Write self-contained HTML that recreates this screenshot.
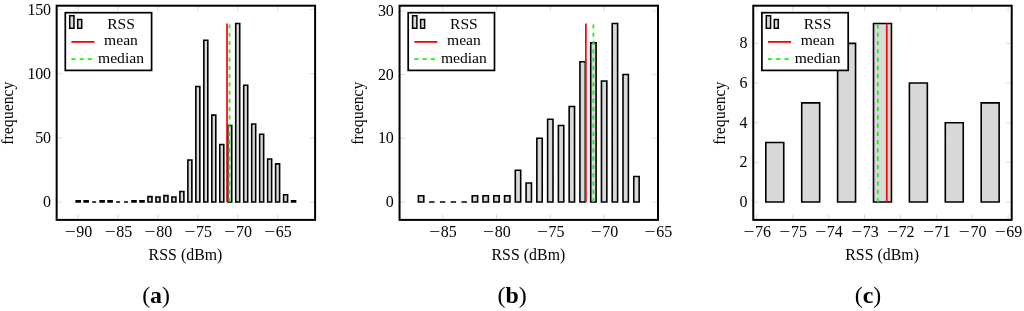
<!DOCTYPE html>
<html><head><meta charset="utf-8"><title>RSS histograms</title>
<style>
html,body{margin:0;padding:0;background:#fff;}
svg{display:block;}
text{font-family:"Liberation Serif", serif;fill:#000;}
</style></head><body>
<svg width="1024" height="311" viewBox="0 0 1024 311">
<rect width="1024" height="311" fill="#fff"/>
<path d="M78.19 219.9v-5.4M78.19 5.7v5.4M118.07 219.9v-5.4M118.07 5.7v5.4M157.96 219.9v-5.4M157.96 5.7v5.4M197.84 219.9v-5.4M197.84 5.7v5.4M237.72 219.9v-5.4M237.72 5.7v5.4M277.61 219.9v-5.4M277.61 5.7v5.4M56.65 202.05h5.4M315.1 202.05h-5.4M56.65 137.84h5.4M315.1 137.84h-5.4M56.65 73.63h5.4M315.1 73.63h-5.4M56.65 9.42h5.4M315.1 9.42h-5.4" stroke="#cccccc" stroke-width="0.7" fill="none"/>
<path d="M76.19 202.05h3.99V200.77h-3.99zM84.17 202.05h3.99V200.77h-3.99zM92.15 202.05h3.99M100.12 202.05h3.99V200.77h-3.99zM108.1 202.05h3.99V200.77h-3.99zM116.08 202.05h3.99M124.05 202.05h3.99M132.03 202.05h3.99V200.77h-3.99zM140.01 202.05h3.99V200.77h-3.99zM147.98 202.05h3.99V196.66h-3.99zM155.96 202.05h3.99V197.04h-3.99zM163.94 202.05h3.99V195.63h-3.99zM171.92 202.05h3.99V197.04h-3.99zM179.89 202.05h3.99V191.52h-3.99zM187.87 202.05h3.99V160.06h-3.99zM195.85 202.05h3.99V86.47h-3.99zM203.82 202.05h3.99V40.24h-3.99zM211.8 202.05h3.99V115.11h-3.99zM219.78 202.05h3.99V144.52h-3.99zM227.75 202.05h3.99V125.51h-3.99zM235.73 202.05h3.99V23.55h-3.99zM243.71 202.05h3.99V85.19h-3.99zM251.68 202.05h3.99V123.97h-3.99zM259.66 202.05h3.99V134.25h-3.99zM267.64 202.05h3.99V159.03h-3.99zM275.61 202.05h3.99V163.91h-3.99zM283.59 202.05h3.99V194.73h-3.99zM291.57 202.05h3.99V200.77h-3.99z" fill="#d9d9d9" stroke="#000" stroke-width="1.6" stroke-linejoin="miter"/>
<path d="M227.04 202.05V23.55" stroke="#f00" stroke-width="1.7" fill="none"/>
<path d="M229.51 202.05V23.55" stroke="#0f0" stroke-width="1.7" stroke-dasharray="4.13 4.13" fill="none"/>
<rect x="56.65" y="5.7" width="258.45" height="214.2" fill="none" stroke="#000" stroke-width="2"/>
<rect x="65.3" y="12.7" width="86.3" height="57.7" fill="#fff" stroke="#000" stroke-width="1.7"/>
<path d="M69.7 28.2h4.3V15.8h-4.3zM77.7 28.2h4V19.4h-4z" fill="#d9d9d9" stroke="#000" stroke-width="1.5"/>
<path d="M71.4 41.9h23.1" stroke="#f00" stroke-width="1.75"/>
<path d="M71.4 59.2h23.1" stroke="#0f0" stroke-width="1.75" stroke-dasharray="4.13 4.13"/>
<text x="121" y="29.0" font-size="15.6" text-anchor="middle">RSS</text>
<text x="121" y="44.5" font-size="15.6" text-anchor="middle">mean</text>
<text x="121" y="63.1" font-size="15.6" text-anchor="middle">median</text>
<text x="42.9" y="207.15" font-size="16">0</text>
<text x="35.15 42.9" y="142.94" font-size="16">50</text>
<text x="27.4 35.15 42.9" y="78.73" font-size="16">100</text>
<text x="27.4 35.15 42.9" y="14.52" font-size="16">150</text>
<text transform="translate(64.81 236.5) scale(1.22 1)" font-size="16">−</text>
<text x="76.37 84.37" y="236.5" font-size="16">90</text>
<text transform="translate(104.69 236.5) scale(1.22 1)" font-size="16">−</text>
<text x="116.25 124.25" y="236.5" font-size="16">85</text>
<text transform="translate(144.58 236.5) scale(1.22 1)" font-size="16">−</text>
<text x="156.14 164.14" y="236.5" font-size="16">80</text>
<text transform="translate(184.46 236.5) scale(1.22 1)" font-size="16">−</text>
<text x="196.02 204.02" y="236.5" font-size="16">75</text>
<text transform="translate(224.34 236.5) scale(1.22 1)" font-size="16">−</text>
<text x="235.9 243.9" y="236.5" font-size="16">70</text>
<text transform="translate(264.23 236.5) scale(1.22 1)" font-size="16">−</text>
<text x="275.79 283.79" y="236.5" font-size="16">65</text>
<text x="185.47" y="259.8" font-size="15.8" text-anchor="middle" textLength="73.7" lengthAdjust="spacing">RSS (dBm)</text>
<text transform="translate(12.6 113.1) rotate(-90)" font-size="15.8" text-anchor="middle">frequency</text>
<text x="156.1" y="302.8" font-size="23.9" text-anchor="middle">(<tspan font-weight="bold">a</tspan>)</text>
<path d="M442.63 219.9v-5.4M442.63 5.7v5.4M496.47 219.9v-5.4M496.47 5.7v5.4M550.31 219.9v-5.4M550.31 5.7v5.4M604.16 219.9v-5.4M604.16 5.7v5.4M658 219.9v-5.4M658 5.7v5.4M399.55 202.05h5.4M658 202.05h-5.4M399.55 138.3h5.4M658 138.3h-5.4M399.55 74.55h5.4M658 74.55h-5.4M399.55 10.8h5.4M658 10.8h-5.4" stroke="#cccccc" stroke-width="0.7" fill="none"/>
<path d="M418.4 202.05h5.38V195.68h-5.38zM429.16 202.05h5.38M439.93 202.05h5.38M450.7 202.05h5.38M461.47 202.05h5.38M472.24 202.05h5.38V195.68h-5.38zM483.01 202.05h5.38V195.68h-5.38zM493.78 202.05h5.38V195.68h-5.38zM504.55 202.05h5.38V195.68h-5.38zM515.31 202.05h5.38V170.18h-5.38zM526.08 202.05h5.38V182.93h-5.38zM536.85 202.05h5.38V138.3h-5.38zM547.62 202.05h5.38V119.18h-5.38zM558.39 202.05h5.38V125.55h-5.38zM569.16 202.05h5.38V106.43h-5.38zM579.93 202.05h5.38V61.8h-5.38zM590.7 202.05h5.38V42.68h-5.38zM601.46 202.05h5.38V80.93h-5.38zM612.23 202.05h5.38V23.55h-5.38zM623 202.05h5.38V74.55h-5.38zM633.77 202.05h5.38V176.55h-5.38z" fill="#d9d9d9" stroke="#000" stroke-width="1.6" stroke-linejoin="miter"/>
<path d="M585.85 202.05V23.55" stroke="#f00" stroke-width="1.7" fill="none"/>
<path d="M593.39 202.05V23.55" stroke="#0f0" stroke-width="1.7" stroke-dasharray="4.13 4.13" fill="none"/>
<rect x="399.55" y="5.7" width="258.45" height="214.2" fill="none" stroke="#000" stroke-width="2"/>
<rect x="408.2" y="12.7" width="86.3" height="57.7" fill="#fff" stroke="#000" stroke-width="1.7"/>
<path d="M412.6 28.2h4.3V15.8h-4.3zM420.6 28.2h4V19.4h-4z" fill="#d9d9d9" stroke="#000" stroke-width="1.5"/>
<path d="M414.3 41.9h23.1" stroke="#f00" stroke-width="1.75"/>
<path d="M414.3 59.2h23.1" stroke="#0f0" stroke-width="1.75" stroke-dasharray="4.13 4.13"/>
<text x="463.9" y="29.0" font-size="15.6" text-anchor="middle">RSS</text>
<text x="463.9" y="44.5" font-size="15.6" text-anchor="middle">mean</text>
<text x="463.9" y="63.1" font-size="15.6" text-anchor="middle">median</text>
<text x="385.8" y="207.15" font-size="16">0</text>
<text x="378.05 385.8" y="143.4" font-size="16">10</text>
<text x="378.05 385.8" y="79.65" font-size="16">20</text>
<text x="378.05 385.8" y="15.9" font-size="16">30</text>
<text transform="translate(429.25 236.5) scale(1.22 1)" font-size="16">−</text>
<text x="440.81 448.81" y="236.5" font-size="16">85</text>
<text transform="translate(483.09 236.5) scale(1.22 1)" font-size="16">−</text>
<text x="494.65 502.65" y="236.5" font-size="16">80</text>
<text transform="translate(536.93 236.5) scale(1.22 1)" font-size="16">−</text>
<text x="548.49 556.49" y="236.5" font-size="16">75</text>
<text transform="translate(590.78 236.5) scale(1.22 1)" font-size="16">−</text>
<text x="602.34 610.34" y="236.5" font-size="16">70</text>
<text transform="translate(644.62 236.5) scale(1.22 1)" font-size="16">−</text>
<text x="656.18 664.18" y="236.5" font-size="16">65</text>
<text x="528.38" y="259.8" font-size="15.8" text-anchor="middle" textLength="73.7" lengthAdjust="spacing">RSS (dBm)</text>
<text transform="translate(362.9 113.1) rotate(-90)" font-size="15.8" text-anchor="middle">frequency</text>
<text x="512.2" y="302.8" font-size="23.9" text-anchor="middle">(<tspan font-weight="bold">b</tspan>)</text>
<path d="M756.84 219.9v-5.4M756.84 5.7v5.4M792.74 219.9v-5.4M792.74 5.7v5.4M828.63 219.9v-5.4M828.63 5.7v5.4M864.53 219.9v-5.4M864.53 5.7v5.4M900.42 219.9v-5.4M900.42 5.7v5.4M936.32 219.9v-5.4M936.32 5.7v5.4M972.21 219.9v-5.4M972.21 5.7v5.4M1008.11 219.9v-5.4M1008.11 5.7v5.4M753.25 202.05h5.4M1011.7 202.05h-5.4M753.25 162.38h5.4M1011.7 162.38h-5.4M753.25 122.72h5.4M1011.7 122.72h-5.4M753.25 83.05h5.4M1011.7 83.05h-5.4M753.25 43.38h5.4M1011.7 43.38h-5.4" stroke="#cccccc" stroke-width="0.7" fill="none"/>
<path d="M765.81 202.05h17.95V142.55h-17.95zM801.71 202.05h17.95V102.88h-17.95zM837.61 202.05h17.95V43.38h-17.95zM873.5 202.05h17.95V23.55h-17.95zM909.4 202.05h17.95V83.05h-17.95zM945.29 202.05h17.95V122.72h-17.95zM981.19 202.05h17.95V102.88h-17.95z" fill="#d9d9d9" stroke="#000" stroke-width="1.6" stroke-linejoin="miter"/>
<path d="M886.78 202.05V23.55" stroke="#f00" stroke-width="1.7" fill="none"/>
<path d="M877.81 202.05V23.55" stroke="#0f0" stroke-width="1.7" stroke-dasharray="4.13 4.13" fill="none"/>
<rect x="753.25" y="5.7" width="258.45" height="214.2" fill="none" stroke="#000" stroke-width="2"/>
<rect x="761.9" y="12.7" width="86.3" height="57.7" fill="#fff" stroke="#000" stroke-width="1.7"/>
<path d="M766.3 28.2h4.3V15.8h-4.3zM774.3 28.2h4V19.4h-4z" fill="#d9d9d9" stroke="#000" stroke-width="1.5"/>
<path d="M768 41.9h23.1" stroke="#f00" stroke-width="1.75"/>
<path d="M768 59.2h23.1" stroke="#0f0" stroke-width="1.75" stroke-dasharray="4.13 4.13"/>
<text x="817.6" y="29.0" font-size="15.6" text-anchor="middle">RSS</text>
<text x="817.6" y="44.5" font-size="15.6" text-anchor="middle">mean</text>
<text x="817.6" y="63.1" font-size="15.6" text-anchor="middle">median</text>
<text x="739.5" y="207.15" font-size="16">0</text>
<text x="739.5" y="167.48" font-size="16">2</text>
<text x="739.5" y="127.82" font-size="16">4</text>
<text x="739.5" y="88.15" font-size="16">6</text>
<text x="739.5" y="48.48" font-size="16">8</text>
<text transform="translate(743.46 236.5) scale(1.22 1)" font-size="16">−</text>
<text x="755.02 763.02" y="236.5" font-size="16">76</text>
<text transform="translate(779.36 236.5) scale(1.22 1)" font-size="16">−</text>
<text x="790.92 798.92" y="236.5" font-size="16">75</text>
<text transform="translate(815.25 236.5) scale(1.22 1)" font-size="16">−</text>
<text x="826.81 834.81" y="236.5" font-size="16">74</text>
<text transform="translate(851.15 236.5) scale(1.22 1)" font-size="16">−</text>
<text x="862.71 870.71" y="236.5" font-size="16">73</text>
<text transform="translate(887.04 236.5) scale(1.22 1)" font-size="16">−</text>
<text x="898.6 906.6" y="236.5" font-size="16">72</text>
<text transform="translate(922.94 236.5) scale(1.22 1)" font-size="16">−</text>
<text x="934.5 942.5" y="236.5" font-size="16">71</text>
<text transform="translate(958.83 236.5) scale(1.22 1)" font-size="16">−</text>
<text x="970.39 978.39" y="236.5" font-size="16">70</text>
<text transform="translate(994.73 236.5) scale(1.22 1)" font-size="16">−</text>
<text x="1006.29 1014.29" y="236.5" font-size="16">69</text>
<text x="882.08" y="259.8" font-size="15.8" text-anchor="middle" textLength="73.7" lengthAdjust="spacing">RSS (dBm)</text>
<text transform="translate(725.2 113.1) rotate(-90)" font-size="15.8" text-anchor="middle">frequency</text>
<text x="868" y="302.8" font-size="23.9" text-anchor="middle">(<tspan font-weight="bold">c</tspan>)</text>
</svg>
</body></html>
